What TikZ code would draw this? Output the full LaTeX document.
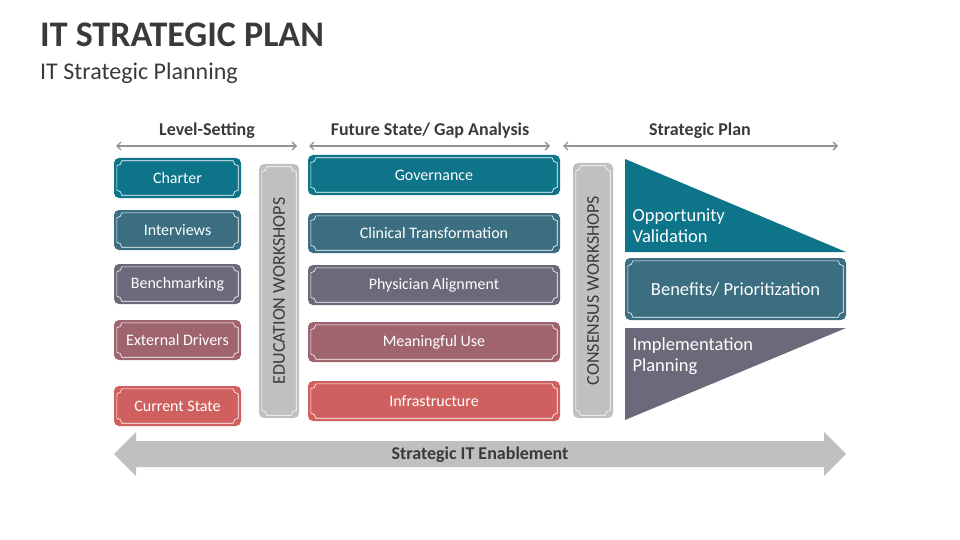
\documentclass[tikz,border=0pt]{standalone}
\usepackage{fontspec}
\setmainfont{Carlito}
\usetikzlibrary{calc,arrows.meta}
\definecolor{cA}{HTML}{0D7489}
\definecolor{cB}{HTML}{3B6E80}
\definecolor{cC}{HTML}{6A6A7A}
\definecolor{cD}{HTML}{A0646E}
\definecolor{cE}{HTML}{D0605F}
\definecolor{bar}{HTML}{C0C0C0}
\definecolor{dark}{HTML}{3A3A3A}
\newcommand\inframe[2][3pt]{%
  \path let \p1=($(#2.south west)+(#1,#1)$), \p2=($(#2.north east)+(-#1,-#1)$) in
  [draw=white,line width=0.6pt]
  (\x1+5pt,\y2) -- (\x2-5pt,\y2) arc[start angle=180,end angle=270,radius=5pt]
  -- (\x2,\y1+5pt) arc[start angle=90,end angle=180,radius=5pt]
  -- (\x1+5pt,\y1) arc[start angle=0,end angle=90,radius=5pt]
  -- (\x1,\y2-5pt) arc[start angle=270,end angle=360,radius=5pt] -- cycle;}
\begin{document}
\begin{tikzpicture}[x=1pt,y=-1pt,
  box/.style={rounded corners=5pt,draw=none,text=white,font=\fontsize{16}{18}\selectfont,inner sep=0pt},
  hdr/.style={font=\bfseries\fontsize{18}{21}\selectfont,text=dark},
  harrow/.style={draw=gray!85,line width=1.3pt,{Straight Barb[length=4pt,width=8pt]}-{Straight Barb[length=4pt,width=8pt]}},
  vbar/.style={rounded corners=5pt,fill=bar,draw=none,inner sep=0pt},
  tritext/.style={text=white,font=\fontsize{18.5}{21}\selectfont,align=left,anchor=west}]
\useasboundingbox (0,0) rectangle (960,540);
\node[anchor=west,font=\bfseries\fontsize{36}{40}\selectfont,text=dark,inner sep=0pt] (title) at (40,35) {IT STRATEGIC PLAN};
\node[anchor=west,font=\fontsize{24}{28}\selectfont,text=dark,inner sep=0pt] (sub) at (40,73) {IT Strategic Planning};
% headers
\node[hdr] (h1) at (207,131) {Level-Setting};
\node[hdr] (h2) at (430,131) {Future State/ Gap Analysis};
\node[hdr] (h3) at (700,131) {Strategic Plan};
\coordinate (a1l) at (116,146); \coordinate (a1r) at (297,146);
\coordinate (a2l) at (309,146); \coordinate (a2r) at (550,146);
\coordinate (a3l) at (563,146); \coordinate (a3r) at (838,146);
\draw[harrow] (a1l) -- (a1r);
\draw[harrow] (a2l) -- (a2r);
\draw[harrow] (a3l) -- (a3r);
% left boxes
\foreach \nm/\t/\y/\c in {l1/Charter/178/cA,l2/Interviews/230/cB,l3/Benchmarking/284/cC,l4/External Drivers/340/cD,l5/Current State/406/cE}{
  \node[box,fill=\c,minimum width=127pt,minimum height=40pt] (\nm) at (177.5,\y) {\t};
  \inframe{\nm}}
% middle boxes
\foreach \nm/\t/\y/\c in {m1/Governance/175/cA,m2/Clinical Transformation/233/cB,m3/Physician Alignment/285/cC,m4/Meaningful Use/342/cD,m5/Infrastructure/401/cE}{
  \node[box,fill=\c,minimum width=252pt,minimum height=40pt] (\nm) at (434,\y) {\t};
  \inframe{\nm}}
% vertical bars
\node[vbar,minimum width=40pt,minimum height=254pt] (ed) at (279,291) {};
\inframe{ed}
\node[rotate=90,text=dark,font=\fontsize{18}{21}\selectfont] (edt) at (ed) {EDUCATION WORKSHOPS};
\node[vbar,minimum width=40pt,minimum height=255pt] (co) at (593,290.5) {};
\inframe{co}
\node[rotate=90,text=dark,font=\fontsize{18}{21}\selectfont] (cot) at (co) {CONSENSUS WORKSHOPS};
% triangles
\fill[cA] (625,159) -- (625,252) -- (846,252) -- cycle;
\node[tritext] (t1) at (629,226) {Opportunity\\Validation};
\node[box,fill=cB,minimum width=221pt,minimum height=62pt,font=\fontsize{18.5}{21}\selectfont] (ben) at (735.5,289) {Benefits/ Prioritization};
\inframe{ben}
\fill[cC] (625,328) -- (846,328) -- (625,420) -- cycle;
\node[tritext] (t2) at (629,356) {Implementation\\Planning};
% bottom arrow
\fill[bar] (114,454) -- (136,432) -- (136,441) -- (824,441) -- (824,432) -- (846,454) -- (824,476) -- (824,467) -- (136,467) -- (136,476) -- cycle;
\node[font=\bfseries\fontsize{18}{21}\selectfont,text=dark] (en) at (480,455) {Strategic IT Enablement};
\end{tikzpicture}
\end{document}
